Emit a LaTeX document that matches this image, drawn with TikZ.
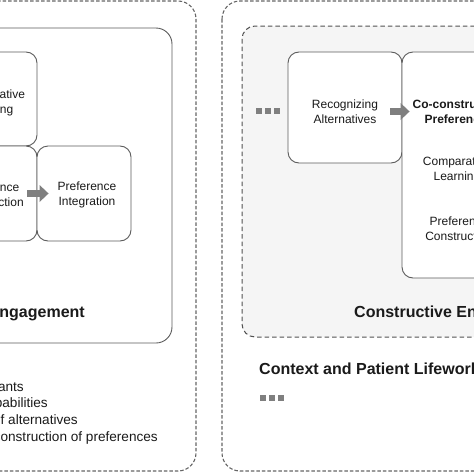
\documentclass[tikz,border=0pt]{standalone}
\usepackage{fontspec}
\setmainfont{Liberation Sans}
\usetikzlibrary{arrows.meta,calc}
\definecolor{txt}{HTML}{1A1A1A}
\definecolor{edge}{HTML}{5C5C5C}
\definecolor{dashgray}{HTML}{666666}
\definecolor{arrowgray}{HTML}{7F7F7F}
\definecolor{panel}{HTML}{F5F5F5}
\begin{document}
\begin{tikzpicture}[x=1pt,y=-1pt,
  outerbox/.style={draw=dashgray, line width=1.1pt, dash pattern=on 3.5pt off 2pt, rounded corners=18pt},
  panelbox/.style={draw=dashgray!80!black, fill=panel, line width=1pt, dash pattern=on 4.5pt off 3pt, rounded corners=13pt},
  groupbox/.style={draw=edge, line width=0.9pt, rounded corners=16pt},
  stagebox/.style={draw=edge, fill=white, line width=0.9pt, rounded corners=11pt, inner sep=0pt},
  stagetext/.style={text=txt, align=center, inner sep=0pt, font=\fontsize{12pt}{15pt}\selectfont},
  stagebold/.style={stagetext, font=\fontsize{12pt}{15pt}\selectfont\bfseries},
  titletext/.style={text=txt, inner sep=0pt, font=\fontsize{16pt}{19pt}\selectfont\bfseries},
  listtext/.style={text=txt, inner sep=0pt, anchor=base east, font=\fontsize{13.6pt}{16pt}\selectfont},
  blockarrow/.style={draw=arrowgray, line width=7pt, -{Triangle[width=17pt,length=9pt,line width=0pt]}},
  dotsq/.style={fill=arrowgray}
]
\useasboundingbox (0,0) rectangle (474,474);
\clip (0,0) rectangle (474,474);

% outer dashed frames
\draw[outerbox] (-30,1) rectangle (196,471);
\draw[outerbox] (222,1) rectangle (520,471);

% left group
\draw[groupbox] (-30,28) rectangle (172,343);
\node[stagebox, minimum width=94pt, minimum height=94pt] (cl) at (-10,99) {};
\node[stagebox, minimum width=94pt, minimum height=95pt] (pc) at (-10,193.5) {};
\node[stagebox, minimum width=94pt, minimum height=95pt] (pi) at (84,193.5) {};
\node[stagetext] (clt) at (-10,103) {Collaborative\\Learning};
\node[stagetext] (pct) at (-10,194.5) {Preference\\Construction};
\node[stagetext] (pit) at (87,194.5) {Preference\\Integration};
\draw[blockarrow] ($(pc.east)+(-10,0)$) -- ($(pi.west)+(12,0)$);
\node[titletext, anchor=base east] (de) at (85,317.5) {Deliberative Engagement};

\node[listtext] (l1) at (24,391.5) {Participants};
\node[listtext] (l2) at (48,407.5) {Capabilities};
\node[listtext] (l3) at (78,424.5) {Number of alternatives};
\node[listtext] (l4) at (158,441.5) {Co-construction of preferences};

% right group
\draw[panelbox] (242,26) rectangle (520,337);
\node[stagebox, minimum width=114pt, minimum height=111pt] (ra) at (345,107.5) {};
\node[stagebox, minimum width=116pt, minimum height=226pt] (cp) at (460,165) {};
\node[stagetext] (rat) at (345,111.5) {Recognizing\\Alternatives};
\node[stagebold] (cpt) at (459,112) {Co-constructing\\Preferences};
\node[stagetext] (clr) at (457,169.5) {Comparative\\Learning};
\node[stagetext] (pcr) at (459,228.5) {Preference\\Construction};
\draw[blockarrow] ($(ra.east)+(-12,4)$) -- ($(cp.west |- ra.east)+(8,4)$);
\fill[dotsq] (256,108) rectangle ++(6,6);
\fill[dotsq] (265,108) rectangle ++(6,6);
\fill[dotsq] (274,108) rectangle ++(6,6);
\node[titletext, anchor=base west] (ce) at (354,317.5) {Constructive Engagement};

\node[titletext, anchor=base west] (cx) at (259,374.5) {Context and Patient Lifeworld};
\fill[dotsq] (260,395) rectangle ++(6,6);
\fill[dotsq] (269,395) rectangle ++(6,6);
\fill[dotsq] (278,395) rectangle ++(6,6);
\end{tikzpicture}
\end{document}
